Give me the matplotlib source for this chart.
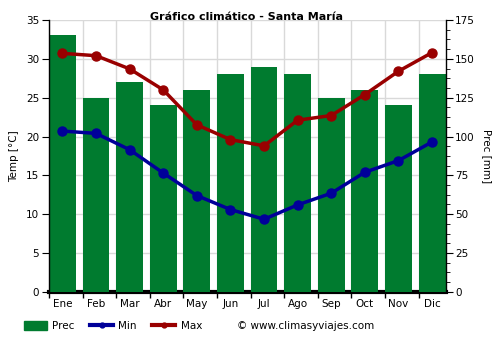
import matplotlib
matplotlib.use("Agg")
import matplotlib.pyplot as plt
from matplotlib.ticker import MultipleLocator, FixedLocator
from matplotlib.patches import Patch
from matplotlib.lines import Line2D

months = ["Ene", "Feb", "Mar", "Abr", "May", "Jun", "Jul", "Ago", "Sep", "Oct", "Nov", "Dic"]
prec = [165, 125, 135, 120, 130, 140, 145, 140, 125, 130, 120, 140]
tmax = [30.7, 30.4, 28.7, 26.0, 21.5, 19.6, 18.8, 22.1, 22.7, 25.4, 28.4, 30.8]
tmin = [20.7, 20.4, 18.3, 15.3, 12.4, 10.6, 9.35, 11.2, 12.7, 15.4, 16.9, 19.3]

green = "#007b2f"
red = "#990000"
blue = "#000099"

fig = plt.figure(figsize=(5, 3.5), dpi=100)
ax2 = fig.add_axes([0.098, 0.166, 0.793, 0.777])
ax = ax2.twinx()
ax.yaxis.tick_left()
ax.yaxis.set_label_position("left")
ax2.yaxis.tick_right()
ax2.yaxis.set_label_position("right")

x = list(range(12))
ax2.bar(x, prec, width=0.8, color=green, zorder=3)
ax2.set_ylim(0, 175)
ax2.set_xlim(-0.4, 11.4)
ax2.yaxis.set_major_locator(MultipleLocator(25))
ax2.yaxis.set_minor_locator(MultipleLocator(6.25))
ax2.xaxis.set_major_locator(FixedLocator([i - 0.4 for i in range(12)]))
ax2.set_xticklabels([])
ax2.xaxis.set_minor_locator(FixedLocator(x))
ax2.set_xticklabels(months, minor=True)
ax2.tick_params(axis="x", which="minor", length=0, labelsize=7.5, pad=5)
ax2.tick_params(axis="x", which="major", length=4, direction="out", width=1)
ax2.tick_params(axis="y", which="major", length=5, labelsize=7.5, pad=2)
ax2.tick_params(axis="y", which="minor", length=3)
ax2.grid(True, which="major", color="#d9d9d9", linewidth=1, zorder=0)
ax2.set_axisbelow(True)
ax2.set_ylabel("Prec [mm]", rotation=270, labelpad=12, fontsize=7.5)

ax.plot(x, tmax, color=red, linewidth=2.5, marker="o", markersize=6.5, zorder=5)
ax.plot(x, tmin, color=blue, linewidth=2.5, marker="o", markersize=6.5, zorder=5)
ax.set_ylim(0, 35)
ax.yaxis.set_major_locator(MultipleLocator(5))
ax.tick_params(axis="y", which="major", length=5, labelsize=7.5, pad=2)
ax.set_ylabel("Temp [°C]", fontsize=7.5, labelpad=5)
ax.patch.set_visible(False)

for a in (ax, ax2):
    a.spines["top"].set_visible(False)
ax.spines["bottom"].set_visible(False)
ax2.spines["bottom"].set_linewidth(3)
ax2.spines["bottom"].set_zorder(1)
ax2.spines["left"].set_visible(False)
ax2.spines["right"].set_visible(False)
ax.spines["left"].set_linewidth(1)
ax.spines["right"].set_linewidth(1)

fig.text(0.494, 0.951, "Gráfico climático - Santa María", ha="center", va="center",
         fontsize=8, fontweight="bold")

handles = [Patch(color=green),
           Line2D([0], [0], color=blue, linewidth=3, marker="o", markersize=3.5),
           Line2D([0], [0], color=red, linewidth=3, marker="o", markersize=3.5)]
fig.legend(handles, ["Prec", "Min", "Max"], loc="center left",
           bbox_to_anchor=(0.048, 0.068), ncol=3, frameon=False, fontsize=7.5,
           handlelength=2.2, handleheight=0.9, handletextpad=0.5, columnspacing=1.5,
           borderpad=0, borderaxespad=0)
fig.text(0.474, 0.068, "© www.climasyviajes.com", ha="left", va="center", fontsize=7.5)

fig.savefig("out.png", dpi=100)
